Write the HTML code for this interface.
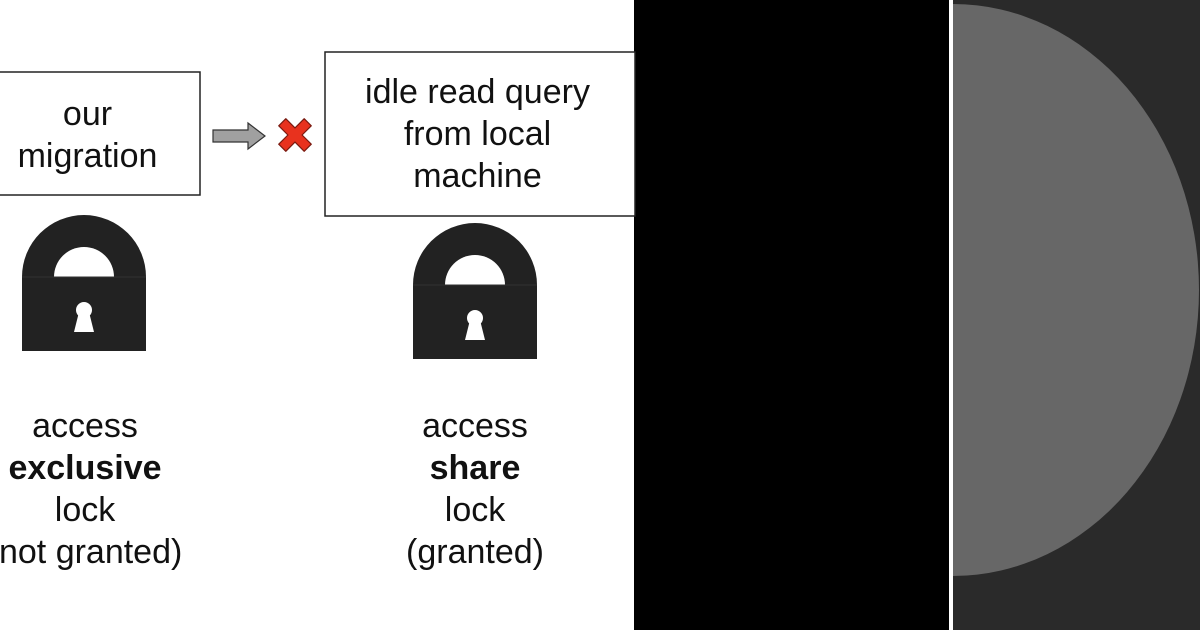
<!DOCTYPE html>
<html><head><style>
body{margin:0;width:1200px;height:630px;overflow:hidden;background:#fff;font-family:"Liberation Sans",Arial,sans-serif}
.t{position:absolute;text-align:center;font-size:34px;line-height:42px;color:#111}
</style></head><body>
<svg width="1200" height="630" style="position:absolute;left:0;top:0">
<rect x="634" y="0" width="315" height="630" fill="#000"/>
<rect x="953" y="0" width="247" height="630" fill="#2a2a2a"/>
<clipPath id="c"><rect x="953" y="0" width="247" height="630"/></clipPath>
<ellipse cx="953" cy="290" rx="246" ry="286" fill="#676767" clip-path="url(#c)"/>
<rect x="-5" y="72" width="205" height="123" fill="#fff" stroke="#222" stroke-width="1.5"/>
<rect x="325" y="52" width="310" height="164" fill="#fff" stroke="#222" stroke-width="1.5"/>
<path d="M213,130 H248 V123 L265,136 L248,149 V142 H213 Z" fill="#a0a0a0" stroke="#333" stroke-width="1.2"/>
<g transform="translate(295,135) rotate(45)">
<path d="M-5,-18 H5 V-5 H18 V5 H5 V18 H-5 V5 H-18 V-5 H-5 Z" fill="#e8321e" stroke="#7a1a10" stroke-width="1.2" stroke-linejoin="round"/>
</g>
<g transform="translate(22,215)">
<path d="M0,62 A62,62 0 0 1 124,62 V136 H0 Z" fill="#222"/>
<path d="M32,62 A30,30 0 0 1 92,62 Z" fill="#fff"/>
<line x1="0" y1="62" x2="124" y2="62" stroke="#333" stroke-width="1"/>
<circle cx="62" cy="95" r="8" fill="#fff"/><path d="M57,97 L67,97 L72,117 L52,117 Z" fill="#fff"/>
</g>
<g transform="translate(413,223)">
<path d="M0,62 A62,62 0 0 1 124,62 V136 H0 Z" fill="#222"/>
<path d="M32,62 A30,30 0 0 1 92,62 Z" fill="#fff"/>
<line x1="0" y1="62" x2="124" y2="62" stroke="#333" stroke-width="1"/>
<circle cx="62" cy="95" r="8" fill="#fff"/><path d="M57,97 L67,97 L72,117 L52,117 Z" fill="#fff"/>
</g>
</svg>
<div class="t" style="left:-15px;width:205px;top:93px">our<br>migration</div>
<div class="t" style="left:325px;width:305px;top:71px">idle read query<br>from local<br>machine</div>
<div class="t" style="left:-115px;width:400px;top:405px">access<br><b>exclusive</b><br>lock<br>(not granted)</div>
<div class="t" style="left:275px;width:400px;top:405px">access<br><b>share</b><br>lock<br>(granted)</div>
</body></html>
